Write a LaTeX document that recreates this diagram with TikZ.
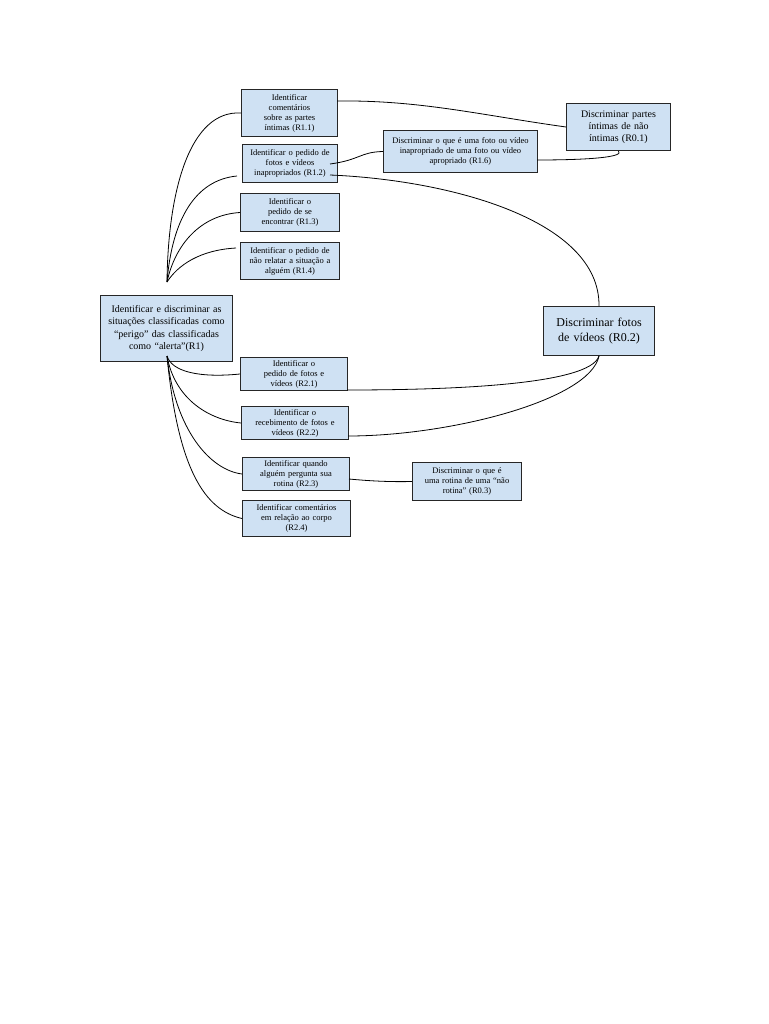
\documentclass[tikz,border=0pt]{standalone}
\usepackage{fontspec}
\setmainfont{Liberation Serif}
\begin{document}
\begin{tikzpicture}[x=1pt,y=-1pt,
 box/.style={draw=black!85,line width=1pt,fill=blue!20!cyan!10!white,fill={rgb,255:red,207;green,225;blue,243},align=center,inner sep=1pt,font=\fontsize{8.5}{10}\selectfont,anchor=north west},
 ln/.style={line width=0.8pt}]
\useasboundingbox (0,0) rectangle (768,1024);
\node[box,minimum width=96,minimum height=47,text width=90] (r11) at (241,89) {Identificar\\comentários\\sobre as partes\\íntimas (R1.1)};
\node[box,minimum width=95,minimum height=38,text width=92] (r12) at (242,144) {Identificar o pedido de\\fotos e vídeos\\inapropriados (R1.2)};
\node[box,minimum width=154,minimum height=42,text width=152] (r16) at (383,130) {Discriminar o que é uma foto ou vídeo\\inapropriado de uma foto ou vídeo\\apropriado (R1.6)};
\node[box,minimum width=104,minimum height=47,text width=100,font=\fontsize{10}{12}\selectfont] (r01) at (566,103) {Discriminar partes\\íntimas de não\\íntimas (R0.1)};
\node[box,minimum width=99,minimum height=38,text width=94] (r13) at (240,193) {Identificar o\\pedido de se\\encontrar (R1.3)};
\node[box,minimum width=99,minimum height=37,text width=96] (r14) at (240,242) {Identificar o pedido de\\não relatar a situação a\\alguém (R1.4)};
\node[box,minimum width=132,minimum height=66,text width=130,font=\fontsize{10}{12.5}\selectfont] (r1) at (100,295) {Identificar e discriminar as\\situações classificadas como\\“perigo” das classificadas\\como “alerta”(R1)};
\node[box,minimum width=111,minimum height=49,text width=108,font=\fontsize{12}{14.5}\selectfont] (r02) at (543,306) {Discriminar fotos\\de vídeos (R0.2)};
\node[box,minimum width=107,minimum height=33,text width=100] (r21) at (240,357) {Identificar o\\pedido de fotos e\\vídeos (R2.1)};
\node[box,minimum width=107,minimum height=33,text width=104] (r22) at (241,406) {Identificar o\\recebimento de fotos e\\vídeos (R2.2)};
\node[box,minimum width=107,minimum height=33,text width=104] (r23) at (242,457) {Identificar quando\\alguém pergunta sua\\rotina (R2.3)};
\node[box,minimum width=109,minimum height=38,text width=106] (r03) at (412,462) {Discriminar o que é\\uma rotina de uma “não\\rotina” (R0.3)};
\node[box,minimum width=108,minimum height=36,text width=106] (r24) at (242,500) {Identificar comentários\\em relação ao corpo\\(R2.4)};
\coordinate (top) at (167,282);
\coordinate (bot) at (167,356);
\draw[ln] (top) .. controls (168,190) and (190,110) .. (r11.west);
\draw[ln] (top) .. controls (172,220) and (195,180) .. (237,176);
\draw[ln] (top) .. controls (175,245) and (200,215) .. (r13.west);
\draw[ln] (top) .. controls (178,265) and (200,250) .. (236,248);
\draw[ln] (bot) .. controls (172,372) and (200,378) .. (r21.west);
\draw[ln] (bot) .. controls (175,400) and (210,420) .. (r22.west);
\draw[ln] (bot) .. controls (175,430) and (210,470) .. (r23.west);
\draw[ln] (bot) .. controls (178,470) and (205,510) .. (r24.west);
\draw[ln] (337,101) .. controls (420,100) and (480,115) .. (r01.west);
\draw[ln] (330,164) .. controls (360,160) and (360,152) .. (r16.west);
\draw[ln] (537,160) .. controls (590,160) and (625,157) .. (r01.south);
\draw[ln] (330,175) .. controls (450,180) and (600,220) .. (r02.north);
\draw[ln] (347,390) .. controls (450,390) and (590,385) .. (r02.south);
\draw[ln] (348,436) .. controls (450,436) and (590,400) .. (r02.south);
\draw[ln] (349,479) .. controls (370,481) and (390,482) .. (r03.west);
\end{tikzpicture}
\end{document}
